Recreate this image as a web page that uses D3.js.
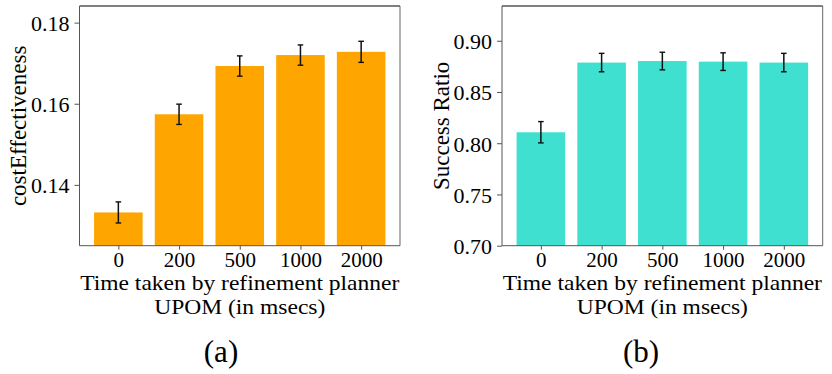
<!DOCTYPE html>
<html><head><meta charset="utf-8">
<script src="https://cdn.jsdelivr.net/npm/d3@7"></script>
<style>body{margin:0;background:#fff}svg{display:block}
text{font-family:"Liberation Serif","Tinos","Times New Roman",Times,"DejaVu Serif",serif !important;fill:#000}</style>
</head><body><svg id="c" width="832" height="374"></svg>
<script>
const categories = ["0", "200", "500", "1000", "2000"];
const costValues = [0.1332, 0.1574, 0.1693, 0.1720, 0.1728];
const costErrors = [0.0026, 0.0025, 0.0025, 0.0025, 0.0026];
const costTicks = [0.14, 0.16, 0.18];
const successValues = [0.8107, 0.8787, 0.8802, 0.8796, 0.8787];
const successErrors = [0.0104, 0.0090, 0.0086, 0.0086, 0.0090];
const successTicks = [0.70, 0.75, 0.80, 0.85, 0.90];

const FONT = '"Liberation Serif","Tinos","Times New Roman",Times,"DejaVu Serif",serif';
const svg = d3.select("#c");

function panel(opt) {
  const x = d3.scaleLinear().domain([-0.64, 4.64]).range([opt.x0, opt.x1]);
  const y = d3.scaleLinear().domain(opt.domain).range([opt.y1, opt.y0]);
  const g = svg.append("g");
  g.selectAll("rect.bar").data(opt.values).join("rect")
    .attr("x", (d, i) => x(i - 0.4)).attr("width", x(0.8) - x(0))
    .attr("y", d => y(d)).attr("height", d => y(opt.domain[0]) - y(d))
    .attr("fill", opt.color);
  const eb = g.selectAll("g.eb").data(opt.values).join("g");
  eb.append("line").attr("x1", (d, i) => x(i)).attr("x2", (d, i) => x(i))
    .attr("y1", (d, i) => y(d + opt.errors[i])).attr("y2", (d, i) => y(d - opt.errors[i]))
    .attr("stroke", "#111").attr("stroke-width", 1.5);
  [1, -1].forEach(s => {
    eb.append("line").attr("x1", (d, i) => x(i) - 2.8).attr("x2", (d, i) => x(i) + 2.8)
      .attr("y1", (d, i) => y(d + s * opt.errors[i])).attr("y2", (d, i) => y(d + s * opt.errors[i]))
      .attr("stroke", "#111").attr("stroke-width", 1.4);
  });
  g.append("line").attr("x1", opt.x0).attr("x2", opt.x1).attr("y1", opt.y0).attr("y2", opt.y0).attr("stroke", "#000").attr("stroke-width", 1.2);
  g.append("line").attr("x1", opt.x0).attr("x2", opt.x0).attr("y1", opt.y0).attr("y2", opt.y1).attr("stroke", "#555").attr("stroke-width", 1);
  g.append("line").attr("x1", opt.x1).attr("x2", opt.x1).attr("y1", opt.y0).attr("y2", opt.y1).attr("stroke", "#666").attr("stroke-width", 1);
  g.append("line").attr("x1", opt.x0).attr("x2", opt.x1).attr("y1", opt.y1).attr("y2", opt.y1).attr("stroke", "#555").attr("stroke-width", 1);
  const ya = g.append("g").attr("transform", `translate(${opt.x0},0)`)
    .call(d3.axisLeft(y).tickValues(opt.ticks).tickFormat(d3.format(opt.fmt)).tickSize(5).tickPadding(5));
  ya.attr("font-family", FONT);
  ya.select(".domain").remove();
  ya.selectAll(".tick line").attr("stroke", "#555");
  ya.selectAll(".tick text").attr("font-size", 22).attr("dy", "0.36em").attr("fill", "#000");
  const xa = g.append("g").attr("transform", `translate(0,${opt.y1})`)
    .call(d3.axisBottom(x).tickValues(d3.range(categories.length)).tickFormat(i => categories[i]).tickSize(4).tickPadding(3));
  xa.attr("font-family", FONT);
  xa.select(".domain").remove();
  xa.selectAll(".tick line").attr("stroke", "#555");
  xa.selectAll(".tick text").attr("font-size", 21).attr("dy", "0.68em").attr("fill", "#000");
  const cx = (opt.x0 + opt.x1) / 2;
  const xl = g.append("text").attr("transform", `translate(${cx},0) scale(1.07,1)`)
    .attr("text-anchor", "middle").attr("font-size", 22).attr("font-family", FONT);
  xl.append("tspan").attr("x", 0).attr("y", 290).text("Time taken by refinement planner");
  xl.append("tspan").attr("x", 0).attr("y", 314.5).text("UPOM (in msecs)");
  g.append("text").attr("transform", `translate(${opt.ylx},${(opt.y0 + opt.y1) / 2}) rotate(-90)`)
    .attr("text-anchor", "middle").attr("font-size", 23).attr("font-family", FONT).text(opt.ylabel);
  g.append("text").attr("x", opt.capx).attr("y", 362).attr("text-anchor", "middle").attr("font-size", 31)
    .attr("font-family", FONT).text(opt.caption);
}

panel({x0: 79.5, x1: 400, y0: 6, y1: 245.7, domain: [0.125, 0.1841], values: costValues, errors: costErrors,
  ticks: costTicks, fmt: ".2f", color: "#FFA500", ylabel: "costEffectiveness", ylx: 26, caption: "(a)", capx: 221});
panel({x0: 502, x1: 822.7, y0: 6, y1: 245.7, domain: [0.70, 0.9339], values: successValues, errors: successErrors,
  ticks: successTicks, fmt: ".2f", color: "#40E0D0", ylabel: "Success Ratio", ylx: 449, caption: "(b)", capx: 641});
</script></body></html>
